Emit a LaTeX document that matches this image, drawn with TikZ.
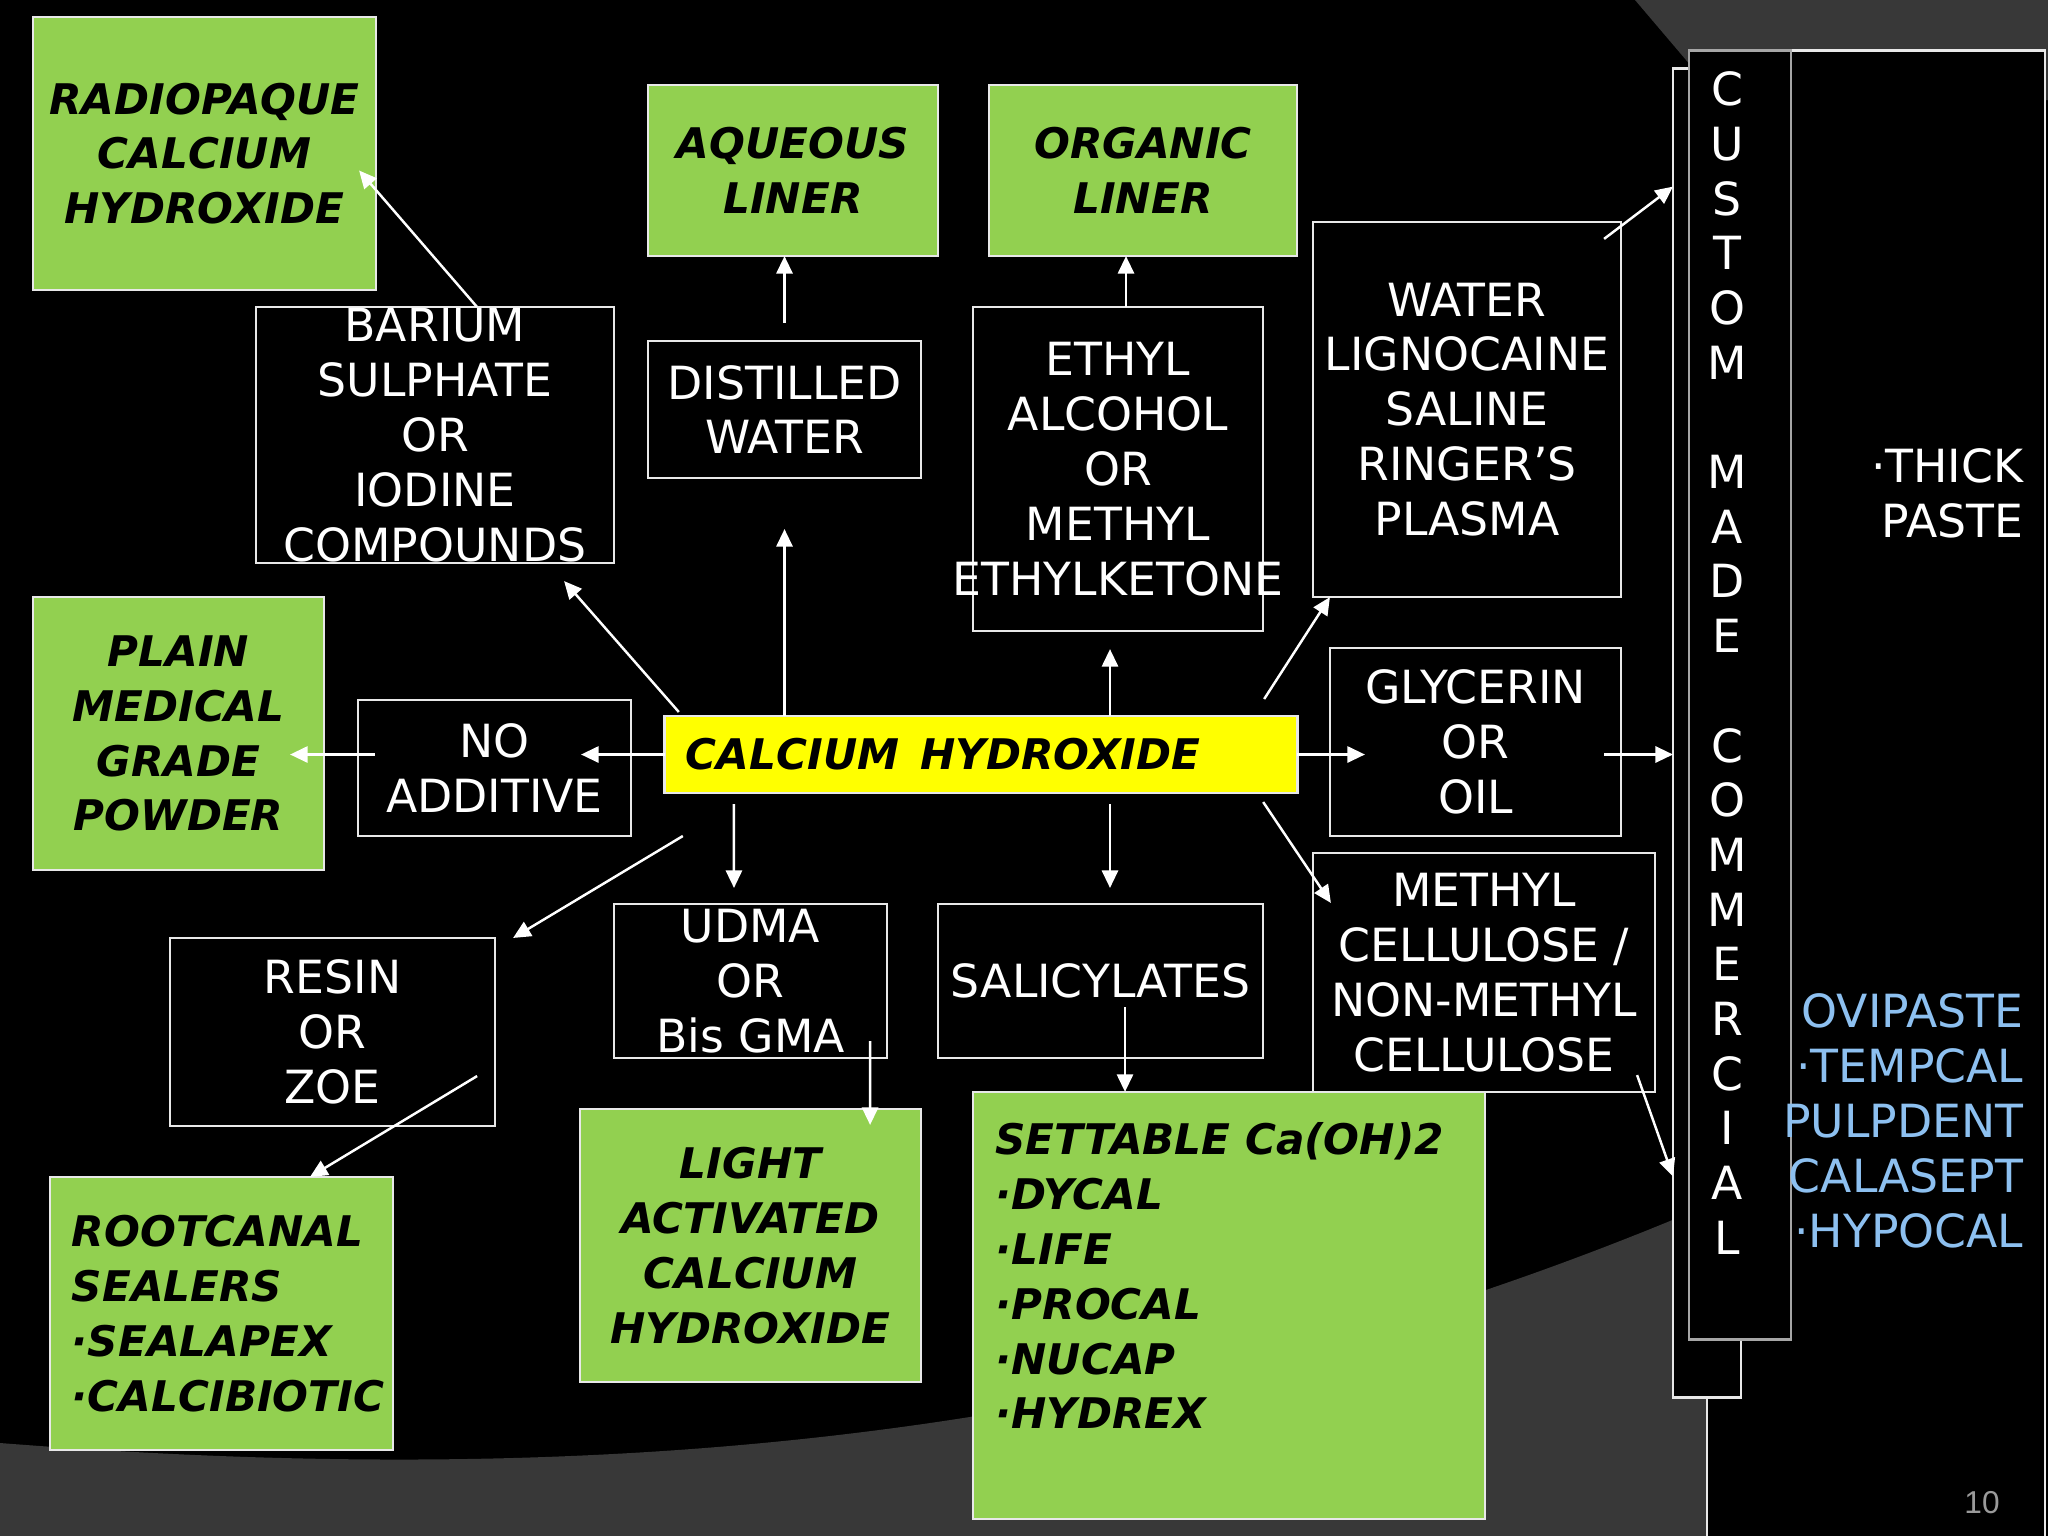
\documentclass[tikz,border=0pt]{standalone}
\usepackage{fontspec}
\setmainfont{DejaVu Sans}
\newfontfamily\numfont{Liberation Sans}
\usepackage{xcolor}
\usepackage{tikz}
\usetikzlibrary{arrows.meta,calc,positioning}
\definecolor{lgreen}{HTML}{92D050}
\definecolor{cyel}{HTML}{FFFF00}
\definecolor{bgrey}{HTML}{383838}
\definecolor{skyb}{HTML}{8DC0F0}
\definecolor{edge}{HTML}{E8E8E8}
\definecolor{pnlgrey}{HTML}{A6A6A6}
\definecolor{pgnum}{HTML}{9A9A9A}
\newcommand\wfont{\fontsize{13}{15.6}\selectfont}
\newcommand\gfont{\fontsize{12}{15.6}\selectfont\bfseries\itshape}
\begin{document}
\begin{tikzpicture}[x=0.01cm,y=-0.01cm,
  wbox/.style={draw=edge,line width=0.6pt,fill=black,text=white,font=\wfont,align=center,inner xsep=-1cm,inner ysep=-1cm,outer sep=0pt},
  gbox/.style={draw=edge,line width=0.6pt,fill=lgreen,text=black,font=\gfont,align=center,inner xsep=-1cm,inner ysep=-1cm,outer sep=0pt},
  gtxt/.style={text=black,font=\gfont,align=left,inner sep=0pt},
  sz/.style 2 args={minimum width=#1cm,minimum height=#2cm},
  arr/.style={-{Triangle[length=5pt,width=4.6pt]},draw=white,line width=0.7pt},
  pnl/.style={draw=#1,line width=0.7pt,fill=black,inner sep=0pt,outer sep=0pt},
  vlet/.style={text=white,font=\wfont,inner sep=0pt}]
% slide background
\useasboundingbox (0,0) rectangle (2048,1536);
\fill[black] (0,0) rectangle (2048,1536);
\fill[bgrey] (1635,0) -- (2048,0) -- (2048,100) -- (1720,100) -- cycle;
\fill[bgrey] (0,1443) .. controls (600,1490) and (1150,1445) .. (1720,1200) -- (1720,1536) -- (0,1536) -- cycle;
% right panel
\node[pnl=edge,sz={3.38}{15.09}] (pnlC) at (1876,805.5) {};
\node[pnl=edge,sz={0.68}{13.28}] (pnlA) at (1707,733) {};
\node[pnl=pnlgrey,sz={1.02}{12.88}] (pnlB) at (1740,695) {};
\foreach \ch [count=\k from 0] in {C,U,S,T,O,M,{},M,A,D,E,{},C,O,M,M,E,R,C,I,A,L}
  \node[vlet] (cm\k) at (1727,{89+54.7*\k}) {\ch};
\node[text=white,font=\wfont,align=right,anchor=east,inner sep=0pt] (thick) at (2024,493) {·THICK\\PASTE};
\node[text=skyb,font=\wfont,align=right,anchor=east,inner sep=0pt] (blist) at (2024,1121)
  {OVIPASTE\\·TEMPCAL\\PULPDENT\\CALASEPT\\·HYPOCAL};
\node[text=pgnum,font=\numfont\fontsize{9}{10}\selectfont] (pgno) at (1982,1503) {10};
% green boxes
\node[gbox,sz={3.43}{2.73}] (radio) at (204.5,153.5) {RADIOPAQUE\\CALCIUM\\HYDROXIDE};
\node[gbox,sz={2.90}{1.71}] (aqu) at (793,170.5) {AQUEOUS\\LINER};
\node[gbox,sz={3.08}{1.71}] (org) at (1143,170.5) {ORGANIC\\LINER};
\node[gbox,sz={2.91}{2.73}] (plain) at (178.5,733.5) {PLAIN\\MEDICAL\\GRADE\\POWDER};
\node[gbox,sz={3.43}{2.73},align=left,text width=2.99cm,inner xsep=0.22cm] (root) at (221.5,1313.5)
  {ROOTCANAL\\SEALERS\\·SEALAPEX\\·CALCIBIOTIC};
\node[gbox,sz={3.41}{2.73}] (light) at (750.5,1245.5) {LIGHT\\ACTIVATED\\CALCIUM\\HYDROXIDE};
\node[gbox,sz={5.12}{4.27}] (sett) at (1229,1305.5) {};
\node[gtxt,anchor=north west] (settT) at ($(sett.north west)+(22,30)$)
  {SETTABLE Ca(OH)2\\·DYCAL\\·LIFE\\·PROCAL\\·NUCAP\\·HYDREX};
% centre
\node[gbox,fill=cyel,line width=0.8pt,sz={6.32}{0.77},align=left,text width=5.9cm,inner xsep=0.21cm] (caoh) at (981,754.5)
  {CALCIUM\enspace HYDROXIDE};
% black boxes
\node[wbox,sz={3.58}{2.56}] (bar) at (435,435) {BARIUM\\SULPHATE\\OR\\IODINE\\COMPOUNDS};
\node[wbox,sz={2.73}{1.37}] (dist) at (784.5,409.5) {DISTILLED\\WATER};
\node[wbox,sz={2.90}{3.24}] (eth) at (1118,469) {ETHYL\\ALCOHOL\\OR\\METHYL\\ETHYLKETONE};
\node[wbox,sz={3.08}{3.75}] (wat) at (1467,409.5) {WATER\\LIGNOCAINE\\SALINE\\RINGER’S\\PLASMA};
\node[wbox,sz={2.73}{1.36}] (noadd) at (494.5,768) {NO\\ADDITIVE};
\node[wbox,sz={2.91}{1.88}] (glyc) at (1475.5,742) {GLYCERIN\\OR\\OIL};
\node[wbox,sz={3.25}{1.88}] (resin) at (332.5,1032) {RESIN\\OR\\ZOE};
\node[wbox,sz={2.73}{1.54}] (udma) at (750.5,981) {UDMA\\OR\\Bis GMA};
\node[wbox,sz={3.25}{1.54}] (salic) at (1100.5,981) {SALICYLATES};
\node[wbox,sz={3.42}{2.39}] (meth) at (1484,972.5) {METHYL\\CELLULOSE /\\NON-METHYL\\CELLULOSE};
% arrows
\draw[arr] ($(bar.north)+(42,0)$) -- ($(radio.east)+(-17,17)$);
\draw[arr] ($(caoh.north west)+(14,-4)$) -- ($(bar.south east)+(-50,18)$);
\draw[arr] (caoh.north -| dist.south) -- ($(dist.south)+(0,51)$);
\draw[arr] ($(dist.north)+(0,-18)$) -- (dist.north |- aqu.south);
\draw[arr] ($(eth.north)+(8,0)$) -- ($(org.south)+(-17,0)$);
\draw[arr] ($(caoh.north)+(129,0)$) -- ($(eth.south)+(-8,18)$);
\draw[arr] ($(caoh.north east)+(-33,-17)$) -- ($(wat.south west)+(17,0)$);
\draw[arr] ($(wat.north east)+(-17,17)$) -- ($(pnlA.north west)+(0,118)$);
\draw[arr] (caoh.east) -- ($(glyc.west)+(35,12.5)$);
\draw[arr] ($(glyc.east)+(-17,12.5)$) -- ($(pnlA.west)+(0,21.5)$);
\draw[arr] ($(caoh.south east)+(-34,9)$) -- ($(meth.north west)+(18,50)$);
\draw[arr] ($(meth.south east)+(-18,-17)$) -- ($(pnlA.south west)+(0,-221)$);
\draw[arr] ($(caoh.south)+(129,11)$) -- ($(salic.north)+(9.5,-16)$);
\draw[arr] ($(salic.south)+(24.5,-51)$) -- ($(sett.north)+(-104,0)$);
\draw[arr] ($(caoh.south west)+(69,11)$) -- ($(udma.north)+(-16.5,-16)$);
\draw[arr] ($(udma.south east)+(-17,-17)$) -- ($(light.north east)+(-51,16)$);
\draw[arr] ($(caoh.south west)+(18,43)$) -- ($(resin.north east)+(18,0)$);
\draw[arr] ($(resin.south east)+(-18,-50)$) -- ($(root.north)+(88.5,0)$);
\draw[arr] (caoh.west) -- ($(noadd.east)+(-50,-13.5)$);
\draw[arr] ($(noadd.west)+(17,-13.5)$) -- ($(plain.east)+(-34,21)$);
\end{tikzpicture}
\end{document}
